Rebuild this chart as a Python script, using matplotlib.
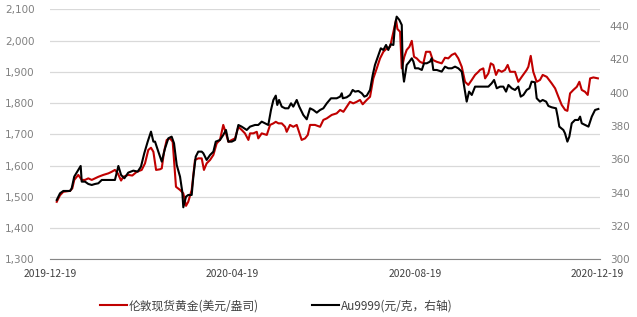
import pandas as pd
import numpy as np
import matplotlib
matplotlib.use("Agg")
import matplotlib.pyplot as plt
from matplotlib.ticker import FuncFormatter

plt.rcParams['font.family'] = ['Noto Sans CJK SC', 'DejaVu Sans']

start = pd.Timestamp('2019-12-19')

# London spot gold (USD/oz), day offset from 2019-12-19
red_days = [4.5, 6.7, 8.9, 13.4, 14.9, 16.2, 18.9, 21.2, 23.4, 25.6, 27.9, 30.1, 32.3, 35.6, 39.0, 41.2,
            43.4, 45.3, 47.5, 49.0, 52.3, 55.0, 58.0, 61.3, 63.5, 65.7, 67.5, 69.1, 70.9, 73.5, 74.7, 76.2,
            78.0, 80.2, 82.0, 84.2, 86.9, 89.1, 90.9, 92.4, 94.7, 96.9, 99.1, 101.4, 102.9, 104.7, 107.0,
            109.2, 111.4, 113.6, 115.8, 117.6, 119.2, 121.5, 123.7, 125.9, 128.1, 130.3, 132.6, 133.7,
            135.9, 138.2, 139.2, 141.5, 144.9, 147.1, 149.3, 150.9, 152.7, 154.9, 157.1, 158.2, 160.4,
            162.6, 164.9, 166.4, 168.2, 170.5, 172.3, 173.8, 177.1, 180.5, 182.7, 185.0, 188.3, 191.6,
            193.9, 196.1, 198.3, 200.5, 202.7, 205.0, 207.2, 209.0, 211.7, 213.9, 216.1, 218.4, 220.6,
            222.8, 225.1, 227.3, 229.5, 231.3, 232.2, 234.0, 235.1, 236.8, 238.4, 240.2, 241.8, 243.3,
            245.1, 247.3, 249.5, 251.3, 254.0, 255.8, 258.5, 261.8, 264.0, 266.2, 268.5, 270.7, 272.9,
            275.2, 277.4, 279.6, 281.9, 284.1, 286.3, 287.4, 289.6, 290.8, 293.0, 294.6, 296.3, 298.1,
            299.7, 301.9, 304.1, 305.9, 307.5, 310.8, 313.0, 315.3, 318.6, 319.7, 321.3, 323.0, 325.3,
            327.5, 329.3, 332.0, 335.3, 337.6, 339.8, 342.0, 344.3, 345.8, 347.6, 349.8, 352.1, 353.8,
            355.4, 357.6, 359.4, 361.0, 363.2, 366.2]
red_vals = [1484, 1505, 1516, 1519, 1527, 1554, 1570, 1554, 1554, 1559, 1554, 1559, 1564, 1570, 1575, 1580,
            1586, 1575, 1552, 1564, 1570, 1568, 1580, 1586, 1607, 1650, 1657, 1644, 1586, 1588, 1591, 1644,
            1682, 1687, 1676, 1532, 1522, 1511, 1471, 1484, 1522, 1618, 1623, 1623, 1586, 1607, 1618,
            1634, 1671, 1682, 1730, 1703, 1676, 1682, 1687, 1724, 1714, 1703, 1682, 1703,
            1703, 1708, 1687, 1703, 1698, 1730, 1735, 1740, 1735, 1735, 1724, 1708, 1730,
            1724, 1730, 1708, 1682, 1687, 1698, 1730, 1730, 1724, 1746, 1751, 1762, 1767,
            1778, 1772, 1788, 1804, 1799, 1804, 1810, 1796, 1810, 1820, 1879, 1911, 1943,
            1964, 1975, 1980, 2028, 2066, 2037, 2028, 1911, 1948, 1970, 1980, 1999, 1948,
            1943, 1932, 1927, 1964, 1964, 1938, 1932, 1927, 1945, 1943, 1954, 1959, 1943,
            1916, 1868, 1858, 1874, 1890, 1900, 1906, 1911, 1879, 1895, 1927, 1922, 1890,
            1906, 1900, 1906, 1922, 1900, 1900, 1868, 1884, 1906, 1916, 1951, 1900, 1868,
            1874, 1890, 1884, 1863, 1847, 1820, 1794, 1778, 1775, 1831, 1842, 1852, 1868,
            1842, 1836, 1826, 1879, 1882, 1879]

# Au9999 (CNY/g, right axis)
blk_days = [4.5, 6.7, 8.9, 13.4, 14.5, 16.2, 18.9, 20.5, 21.2, 23.4, 25.6, 27.9, 30.1, 32.3, 34.6, 41.2,
            43.4, 45.7, 47.5, 49.7, 52.3, 55.7, 58.6, 60.8, 63.0, 65.3, 67.5, 69.1, 70.2, 72.4, 74.7,
            76.9, 79.1, 81.3, 82.9, 84.7, 86.9, 88.4, 89.1, 90.9, 92.4, 94.7, 95.8, 97.4, 99.1, 101.4,
            102.5, 104.7, 107.0, 109.2, 110.8, 113.6, 115.8, 117.6, 119.2, 121.5, 123.7, 125.9, 128.1,
            131.5, 133.7, 137.0, 139.2, 141.5, 143.7, 145.9, 147.7, 149.3, 150.9, 151.9, 153.1, 154.9,
            157.1, 159.3, 161.1, 162.6, 164.9, 166.6, 169.3, 171.6, 173.8, 176.0, 178.3, 180.5, 182.7,
            185.0, 187.8, 191.6, 193.9, 195.0, 195.7, 198.3, 200.5, 202.3, 203.9, 206.1, 208.4, 210.1,
            211.7, 213.9, 215.7, 217.2, 219.5, 221.1, 222.8, 224.6, 226.1, 227.7, 229.5, 230.6, 231.7,
            233.5, 235.1, 235.8, 236.6, 238.4, 240.2, 241.8, 242.9, 244.0, 246.2, 248.5, 250.0, 251.8,
            254.0, 255.1, 256.2, 258.5, 261.8, 264.0, 266.2, 268.5, 270.7, 272.9, 275.2, 276.7, 278.5,
            280.1, 281.9, 284.1, 287.4, 289.6, 293.0, 295.2, 296.8, 298.6, 300.8, 303.0, 304.8, 306.4,
            308.6, 310.8, 313.0, 314.6, 316.4, 318.6, 320.4, 321.9, 324.1, 325.3, 327.5, 329.3, 331.6,
            333.1, 335.3, 338.2, 339.3, 340.4, 343.1, 344.2, 345.8, 347.1, 348.7, 350.9, 353.1, 354.3,
            355.4, 357.6, 359.9, 362.1, 364.3, 366.5]
blk_vals = [335.6, 339.6, 341, 341, 342.6, 349.6, 353.6, 356, 346.6, 346.6, 345.2, 344.6, 345.2, 345.6, 347.6, 347.6,
            347.6, 356, 350.6, 348.6, 352, 353.2, 352.6, 355.6, 363.6, 370.6, 376.6, 370.6, 370.6, 364.6, 358.6,
            366.6, 372.6, 373.6, 369.6, 356.6, 349.6, 340.6, 331.2, 337.6, 338.6, 338.6, 349.6, 361.6, 364.6, 364.6,
            363.6, 359.6, 362.6, 364.6, 370.6, 371.6, 374.6, 377.6, 370.6, 370.6, 371.6, 380.6, 379.6,
            377.6, 379.6, 380.6, 380.6, 382.6, 381.6, 380.6, 389.6, 395.6, 398.2, 392.6, 395.6, 391.6,
            390.6, 390.6, 393.6, 391.6, 395.6, 391.6, 386.6, 384, 390.6, 389.6, 388, 389.6, 390.6,
            393.6, 396.6, 396.6, 397.6, 399.6, 396.6, 397.2, 398.6, 401.6, 400.6, 401, 399.6, 397.6,
            398.2, 401.6, 410.6, 416.6, 422.6, 426.6, 425.6, 428.6, 425.6, 429, 428.6, 440.6, 445.6,
            443.6, 440.6, 412.6, 406.6, 416.6, 418.6, 420.6, 418.6, 414.6, 414.6, 413.6, 417.6, 417.6,
            418.6, 420.6, 413.6, 413.6, 412.6, 415.6, 414.6, 414.6, 415.6, 414.6, 412.6, 404.6, 394.6,
            400.6, 398.6, 403.6, 403.6, 403.6, 403.6, 405.6, 407.6, 402.6, 403.6, 403.6, 400.6, 404.6,
            402.6, 401.6, 403.6, 397.6, 398.6, 401.6, 402.6, 406.6, 406.2, 396.6, 394.6, 395.6, 394.6,
            392, 391.2, 390.6, 385.6, 379.6, 377.6, 375.6, 370.6, 373.6, 381.6, 383.6, 383.6, 385.6,
            381.6, 380.6, 379.6, 385.6, 389.6, 390.2]

tick_dates = ['2019-12-19', '2020-04-19', '2020-08-19', '2020-12-19']

red_x = start + pd.to_timedelta(red_days, unit='D')
blk_x = start + pd.to_timedelta(blk_days, unit='D')

fig = plt.figure(figsize=(6.37, 3.17), dpi=100)
ax = fig.add_axes([50/637, 1-259.3/317, 550/637, 250/317])
ax2 = ax.twinx()

l1, = ax.plot(red_x, red_vals, color='#C00000', lw=1.5, label='伦敦现货黄金(美元/盎司)')
l2, = ax2.plot(blk_x, blk_vals, color='black', lw=1.5, label='Au9999(元/克，右轴)')

ax.set_ylim(1300, 2100)
ax.set_yticks(np.arange(1300, 2101, 100))
ax.yaxis.set_major_formatter(FuncFormatter(lambda v, p: f'{int(v):,}'))
ax2.set_ylim(300, 450)
ax2.set_yticks(np.arange(300, 441, 20))

ax.set_xlim(start, start + pd.Timedelta(days=367.6))
ax.set_xticks(pd.to_datetime(tick_dates))
ax.set_xticklabels(tick_dates)

ax.grid(axis='y', color='#d9d9d9', lw=0.9)
ax.set_axisbelow(True)
for a in (ax, ax2):
    for s in ['top', 'left', 'right', 'bottom']:
        a.spines[s].set_visible(False)
ax.spines['bottom'].set_visible(True)
ax.spines['bottom'].set_color('#868686')

ax.tick_params(axis='y', length=0, labelsize=7.5, labelcolor='#808080', pad=11)
ax2.tick_params(axis='y', length=0, labelsize=7.5, labelcolor='#808080', pad=7)
ax.tick_params(axis='x', length=0, labelsize=7.4, labelcolor='#404040', pad=7)
for lab in ax.get_yticklabels() + ax2.get_yticklabels():
    lab.set_fontfamily('DejaVu Sans')

fig.legend(handles=[l1, l2], loc='center', bbox_to_anchor=(276/637, 1-306/317), ncol=2,
           frameon=False, fontsize=8.5, handlelength=2.3, handletextpad=0.15, columnspacing=4.5,
           labelcolor='#404040')

fig.savefig('out.png', dpi=100)
